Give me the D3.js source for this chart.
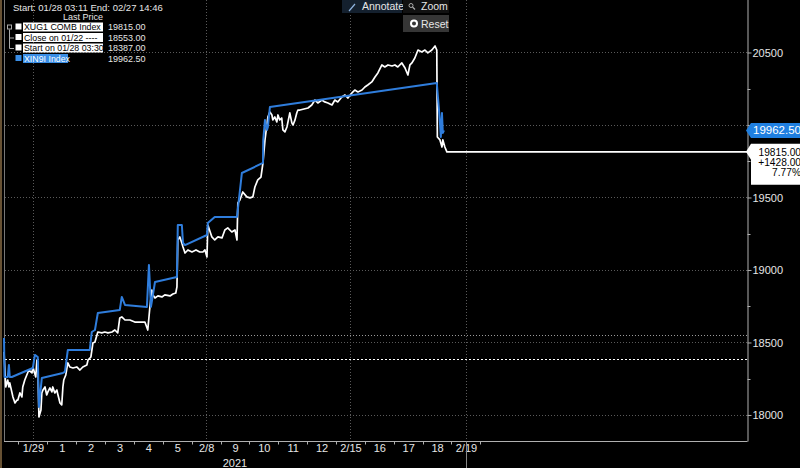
<!DOCTYPE html>
<meta charset="utf-8">
<style>
body { margin: 0; background: #000; }
svg { display: block; font-family: "Liberation Sans", Arial, sans-serif; }
.grid { stroke: #5a5a5a; stroke-dasharray: 1,2; }
.ax text { fill: #e6e6e6; font-size: 11px; }
</style>
<body>
<script src="https://d3js.org/d3.v7.min.js"></script>
<div id="draw"></div>
<script>

// trading-day index: 1/28 = 0, 1/29 = 1, 2/1 = 2 ...
var tickDays = [1, 2, 3, 4, 5, 6, 7, 8, 9, 10, 11, 12, 13, 14, 15, 16];
var tickLabels = ["1/29", "1", "2", "3", "4", "5", "2/8", "9", "10", "11", "12", "2/15", "16", "17", "18", "2/19"];
var gridDays = [1, 7, 12, 16];
var priceTicks = [18000, 18500, 19000, 19500, 20000, 20500];
var minorPriceTicks = [18250, 18750, 19250, 19750, 20250];
var closeOn0122 = 18553;
var startOn0128 = 18387;

// XUG1 COMB Index (white)
var xugDays = [0.00,0.06,0.13,0.17,0.20,0.27,0.31,0.38,0.45,0.48,0.55,0.62,0.65,0.72,0.79,0.86,0.97,1.00,1.10,1.14,
  1.17,1.21,1.28,1.31,1.35,1.42,1.48,1.52,1.59,1.66,1.69,1.76,1.83,1.87,1.94,2.00,2.04,2.07,2.14,2.21,
  2.28,2.39,2.52,2.63,2.73,2.87,2.91,3.01,3.08,3.15,3.25,3.39,3.49,3.60,3.74,3.84,3.94,4.01,4.08,4.19,
  4.36,4.53,4.71,4.88,4.98,5.05,5.12,5.16,5.23,5.33,5.47,5.57,5.75,5.85,5.95,5.99,6.02,6.09,6.16,6.20,
  6.27,6.37,6.51,6.65,6.78,6.89,6.96,7.03,7.06,7.20,7.30,7.41,7.55,7.65,7.75,7.89,8.00,8.07,8.10,8.17,
  8.27,8.41,8.52,8.62,8.69,8.79,8.90,8.97,9.04,9.14,9.21,9.28,9.31,9.38,9.45,9.49,9.55,9.62,9.66,9.73,
  9.80,9.90,9.97,10.01,10.08,10.14,10.18,10.25,10.39,10.53,10.66,10.77,10.87,11.01,11.11,11.22,11.36,11.46,11.56,11.70,
  11.81,11.91,12.05,12.15,12.26,12.40,12.50,12.60,12.74,12.85,12.95,13.09,13.19,13.30,13.44,13.54,13.64,13.78,13.89,13.99,
  14.06,14.13,14.23,14.34,14.47,14.58,14.68,14.82,14.93,14.99,15.01,15.10,15.13,15.17,15.20,15.27,15.34,25.77];
var xugPrice = [18435,18193,18241,18193,18221,18159,18124,18083,18103,18103,18152,18124,18193,18241,18276,18310,18290,18331,18262,18379,
  18366,17986,18034,18152,18172,18193,18138,18159,18186,18159,18193,18152,18172,18138,18083,18069,18193,18241,18276,18359,
  18331,18324,18331,18310,18331,18345,18379,18400,18497,18503,18572,18566,18572,18566,18572,18586,18566,18669,18676,18655,
  18655,18641,18641,18641,18586,18738,18862,18828,18807,18821,18814,18828,18821,18834,18841,18883,19207,19228,19186,19159,
  19117,19138,19124,19138,19124,19124,19138,19090,19310,19228,19207,19228,19221,19276,19290,19262,19276,19207,19462,19483,
  19538,19504,19497,19504,19572,19621,19641,19738,19897,20055,20090,20069,20035,20055,20021,20069,20035,20048,19966,19952,
  19986,20083,20014,20000,20035,20083,20103,20103,20110,20117,20138,20172,20152,20172,20159,20152,20138,20172,20159,20193,
  20207,20186,20221,20241,20228,20241,20262,20276,20297,20331,20359,20414,20400,20414,20407,20414,20400,20428,20393,20345,
  20414,20428,20462,20517,20504,20517,20497,20517,20545,20517,19917,19897,19876,19848,19897,19848,19815,19815];

// XIN9I Index (blue)
var xinDays = [0.00,0.02,0.13,0.17,0.20,0.27,1.00,1.07,1.17,1.21,1.31,2.04,2.11,2.21,2.97,3.04,3.15,3.25,4.01,4.08,
  4.19,4.95,5.02,5.09,5.23,5.99,6.02,6.16,6.20,6.27,7.03,7.06,7.30,8.07,8.24,8.97,8.98,9.04,9.11,9.14,
  9.21,14.99,15.03,15.06,15.10,15.13,15.17,15.20,15.24];
var xinPrice = [18531,18262,18262,18345,18262,18262,18324,18414,18400,18055,18255,18290,18297,18448,18448,18572,18586,18703,18724,18814,
  18759,18745,19035,18745,18917,18952,19310,19310,19186,19172,19241,19324,19366,19366,19669,19738,19897,20035,19966,19986,
  20124,20290,20193,20124,20014,19917,20083,19945,19962.5];

var legendNames = ["XUG1 COMB Index", "Close on 01/22 ----", "Start on 01/28 03:30", "XIN9I Index"];
var legendValues = ["19815.00", "18553.00", "18387.00", "19962.50"];
var legendColors = ["#ffffff", "#ffffff", "#ffffff", "#3a8ee6"];
var tagLines = ["19815.00", "+1428.00", "7.77%"];

var W = 800, H = 468;
var axisY = 441.5, axisX = 747.5;

var x = d3.scaleLinear().domain([0, 25.77]).range([4, 748]);
var y = d3.scaleLinear().domain([17817, 20862]).range([axisY, 0]);

var svg = d3.select("#draw").append("svg")
    .attr("width", W)
    .attr("height", H);

// left frame
svg.append("line").attr("x1", 1).attr("x2", 1).attr("y1", 0).attr("y2", H)
    .attr("stroke", "#8a6d45").attr("stroke-width", 1.5);
svg.append("line").attr("x1", 4.5).attr("x2", 4.5).attr("y1", 0).attr("y2", axisY)
    .attr("stroke", "#777");

// grid
svg.selectAll(".hgrid").data(priceTicks).enter().append("line")
    .attr("class", "grid")
    .attr("x1", 5).attr("x2", axisX)
    .attr("y1", function(d) { return Math.round(y(d)) + 0.5; })
    .attr("y2", function(d) { return Math.round(y(d)) + 0.5; });

svg.selectAll(".vgrid").data(gridDays).enter().append("line")
    .attr("class", "grid")
    .attr("y1", 0).attr("y2", axisY)
    .attr("x1", function(d) { return Math.round(x(d)) + 0.5; })
    .attr("x2", function(d) { return Math.round(x(d)) + 0.5; });

// reference lines
svg.append("line")
    .attr("x1", 5).attr("x2", axisX)
    .attr("y1", Math.round(y(closeOn0122)) + 0.5).attr("y2", Math.round(y(closeOn0122)) + 0.5)
    .attr("stroke", "#9a9a9a").attr("stroke-dasharray", "1,2");
svg.append("line")
    .attr("x1", 5).attr("x2", axisX)
    .attr("y1", Math.round(y(startOn0128)) + 0.5).attr("y2", Math.round(y(startOn0128)) + 0.5)
    .attr("stroke", "#ffffff").attr("stroke-dasharray", "2,2");

// series
var line = d3.line()
    .x(function(d) { return x(d[0]); })
    .y(function(d) { return y(d[1]); });

svg.append("path")
    .datum(d3.zip(xugDays, xugPrice))
    .attr("d", line)
    .attr("fill", "none")
    .attr("stroke", "#ffffff")
    .attr("stroke-width", 1.7)
    .attr("stroke-linejoin", "round");

svg.append("path")
    .datum(d3.zip(xinDays, xinPrice))
    .attr("d", line)
    .attr("fill", "none")
    .attr("stroke", "#2f7ddc")
    .attr("stroke-width", 2)
    .attr("stroke-linejoin", "round");

// x axis
var xAxis = d3.axisBottom(x)
    .tickValues(tickDays)
    .tickSize(0)
    .tickPadding(3)
    .tickFormat(function(d, i) { return tickLabels[i]; });

var gx = svg.append("g")
    .attr("class", "ax")
    .attr("transform", "translate(0," + axisY + ")")
    .call(xAxis);
gx.select(".domain").remove();
gx.append("line").attr("x1", 4).attr("x2", axisX).attr("stroke", "#b0b0b0");
gx.selectAll(".minor").data(tickDays.map(function(d) { return d + 0.5; }).concat([0.5]))
    .enter().append("line")
    .attr("x1", function(d) { return Math.round(x(d)) + 0.5; })
    .attr("x2", function(d) { return Math.round(x(d)) + 0.5; })
    .attr("y1", 0).attr("y2", 3)
    .attr("stroke", "#b0b0b0");
gx.append("line")
    .attr("x1", Math.round(x(16)) + 0.5).attr("x2", Math.round(x(16)) + 0.5)
    .attr("y1", 0).attr("y2", H - axisY)
    .attr("stroke", "#888");
gx.append("text")
    .attr("x", x(8))
    .attr("y", 25)
    .attr("text-anchor", "middle")
    .attr("fill", "#e6e6e6")
    .text("2021");

// y axis (right); the 20000 label sits under the blue last-value tag
var yAxis = d3.axisRight(y)
    .tickValues(priceTicks)
    .tickSize(4)
    .tickPadding(1)
    .tickFormat(function(d) { return d == 20000 ? "" : d3.format("d")(d); });

var gy = svg.append("g")
    .attr("class", "ax")
    .attr("transform", "translate(" + axisX + ",0)")
    .call(yAxis);
gy.select(".domain").attr("stroke", "#b0b0b0").attr("d", "M0.5,0V" + axisY);
gy.selectAll(".tick line").attr("stroke", "#b0b0b0");
gy.selectAll(".minor").data(minorPriceTicks).enter().append("line")
    .attr("x1", 0).attr("x2", 3)
    .attr("y1", function(d) { return Math.round(y(d)) + 0.5; })
    .attr("y2", function(d) { return Math.round(y(d)) + 0.5; })
    .attr("stroke", "#b0b0b0");

// last value tags
var yb = y(19962.5);
svg.append("path")
    .attr("d", "M746," + yb + "L751," + (yb - 7.5) + "H800V" + (yb + 7.5) + "H751Z")
    .attr("fill", "#1f7fe0");
svg.append("text")
    .attr("x", 753).attr("y", yb + 4)
    .attr("fill", "#fff").attr("font-size", 11.5)
    .text("19962.50");

var yw = y(19815);
svg.append("path")
    .attr("d", "M746," + yw + "L751," + (yw - 8) + "H800V" + (yw + 33) + "H751V" + (yw + 8) + "Z")
    .attr("fill", "#fff");
svg.selectAll(".tagtxt").data(tagLines).enter().append("text")
    .attr("x", 801)
    .attr("y", function(d, i) { return yw + 4 + i * 10.3; })
    .attr("text-anchor", "end")
    .attr("fill", "#000")
    .attr("font-size", 10.2)
    .text(function(d) { return d; });

// header + legend
svg.append("text").attr("x", 13).attr("y", 11)
    .attr("fill", "#e6e6e6").attr("font-size", 9.5)
    .text("Start: 01/28 03:11 End: 02/27 14:46");
svg.append("text").attr("x", 83).attr("y", 20)
    .attr("text-anchor", "middle")
    .attr("fill", "#e6e6e6").attr("font-size", 9)
    .text("Last Price");

var leg = svg.selectAll(".legend").data(legendNames).enter().append("g")
    .attr("class", "legend")
    .attr("transform", function(d, i) { return "translate(0," + (27 + i * 10.5) + ")"; });

leg.append("rect")
    .attr("x", 15.5).attr("y", -3.5).attr("width", 6).attr("height", 6)
    .attr("fill", function(d, i) { return legendColors[i]; });
leg.append("rect")
    .attr("x", 23).attr("y", -4.5)
    .attr("width", function(d, i) { return i == 3 ? 45 : 80; })
    .attr("height", 9)
    .attr("fill", function(d, i) { return legendColors[i]; });
leg.append("text")
    .attr("x", 24).attr("y", 3)
    .attr("font-size", 8.8)
    .attr("fill", function(d, i) { return i == 3 ? "#fff" : "#000"; })
    .text(function(d) { return d; });
leg.append("text")
    .attr("x", 108).attr("y", 3)
    .attr("font-size", 9)
    .attr("fill", "#e6e6e6")
    .text(function(d, i) { return legendValues[i]; });

// legend tree
svg.append("rect").attr("x", 7.5).attr("y", 25).attr("width", 4).attr("height", 4)
    .attr("fill", "none").attr("stroke", "#aaa");
svg.append("path").attr("d", "M9.5,29.5V48.5H14M9.5,38H14")
    .attr("fill", "none").attr("stroke", "#aaa");

// toolbar
svg.append("rect").attr("x", 342).attr("y", 0).attr("width", 60).attr("height", 13).attr("fill", "#14202e");
svg.append("path").attr("d", "M349,11L355,4").attr("stroke", "#8fb4e0").attr("stroke-width", 1.2);
svg.append("text").attr("x", 362).attr("y", 10).attr("fill", "#e6e6e6").attr("font-size", 10.5).text("Annotate");
svg.append("rect").attr("x", 403).attr("y", 0).attr("width", 46).attr("height", 13).attr("fill", "#111");
svg.append("circle").attr("cx", 411).attr("cy", 5.5).attr("r", 2).attr("fill", "none").attr("stroke", "#aaa");
svg.append("path").attr("d", "M412.5,7L415,9.5").attr("stroke", "#aaa").attr("stroke-width", 1.2);
svg.append("text").attr("x", 421).attr("y", 10).attr("fill", "#e6e6e6").attr("font-size", 10.5).text("Zoom");
svg.append("rect").attr("x", 403).attr("y", 15).attr("width", 46).attr("height", 17).attr("fill", "#363636");
svg.append("circle").attr("cx", 414).attr("cy", 23.5).attr("r", 3).attr("fill", "none").attr("stroke", "#fff").attr("stroke-width", 2);
svg.append("text").attr("x", 421).attr("y", 27.5).attr("fill", "#e6e6e6").attr("font-size", 10.5).text("Reset");

</script>
